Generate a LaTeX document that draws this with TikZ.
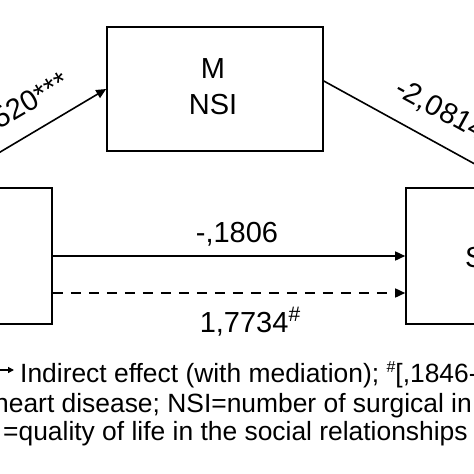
\documentclass[tikz,border=0pt]{standalone}
\usepackage{fontspec}
\setmainfont{Liberation Sans}
\usetikzlibrary{arrows.meta}
\newcommand{\supmark}[2]{\raisebox{0.36em}{\fontsize{#1}{#1}\selectfont #2}}
\begin{document}
\begin{tikzpicture}[x=1pt,y=-1pt,
  every node/.style={font=\fontsize{29}{33}\selectfont, inner sep=0pt},
  captxt/.style={font=\fontsize{26.4}{30}\selectfont, anchor=base west},
  box/.style={draw, line width=1.6pt},
  conn/.style={line width=1.6pt, -{Triangle[length=10pt,width=9pt]}},
  legarrow/.style={line width=1.3pt, -{Triangle[length=6pt,width=6pt]}}]
\useasboundingbox (0,0) rectangle (474,474);
\clip (0,0) rectangle (474,474);
% boxes
\node[box, minimum width=216pt, minimum height=124pt] (M) at (215,89) {};
\node[anchor=base] (Mtxt1) at (213,78) {M};
\node[anchor=base] (Mtxt2) at (213,114) {NSI};
\node[box, minimum width=222pt, minimum height=136pt] (X) at (-59,256) {};
\node[box, minimum width=222pt, minimum height=136pt] (Y) at (517,256) {};
\node[anchor=base west] (Ytxt) at (465,267) {S};
% connectors
\draw[conn] (X.north) -- (M.west);
\draw[conn] ([yshift=8pt]M.east) -- (Y.north);
\draw[conn] (X.east) -- (Y.west);
\draw[conn, dash pattern=on 10pt off 8pt] ([yshift=-37pt]X.east) -- ([yshift=-37pt]Y.west);
% labels
\node[anchor=base east, rotate=30.5] (la) at (71,88) {520***};
\node[anchor=base west, rotate=-28.7] (lb) at (393,94) {-2,0814};
\node[anchor=base] (lc) at (237,242) {-,1806};
\node[anchor=base] (ld) at (250,332) {1,7734\supmark{21}{\#}};
% legend
\coordinate (lg0) at (-20,370);
\coordinate (lg1) at (14,370);
\draw[legarrow] (lg0) -- (lg1);
\node[captxt] (c1) at (20,382) {Indirect effect (with mediation); \supmark{16}{\#}[,1846-};
\node[captxt] (c2) at (-6,412) {heart disease; NSI=number of surgical in};
\node[captxt] (c3) at (3,440) {=quality of life in the social relationships};
\end{tikzpicture}
\end{document}
